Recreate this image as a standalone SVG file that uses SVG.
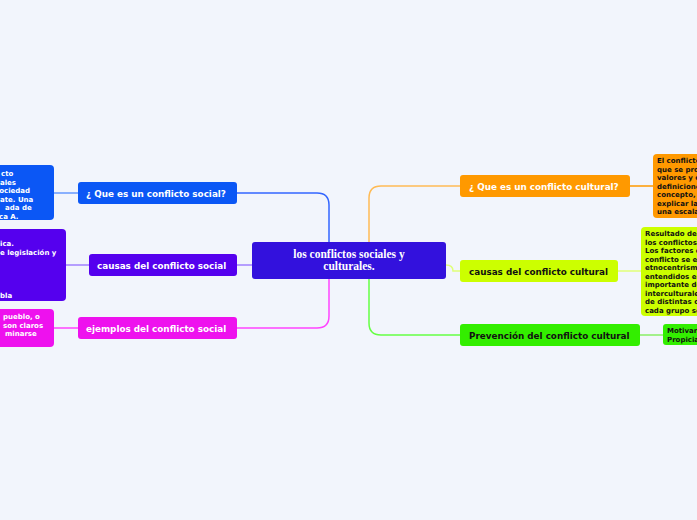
<svg xmlns="http://www.w3.org/2000/svg" width="697" height="520" viewBox="0 0 697 520">
<style>
.t{font-family:"DejaVu Sans",Verdana,sans-serif;font-weight:bold;font-size:8.8px;fill:#fff}
.l{font-family:"DejaVu Sans",Verdana,sans-serif;font-weight:bold;font-size:7px;fill:#fff}
.d{fill:#111}
path{fill:none;stroke-width:1.5}
</style>
<rect width="697" height="520" fill="#f2f5fc"/>
<g id="connectors">
<path d="M252,265 H237" stroke="#a080ff"/>
<path d="M329,242 V205 Q329,193 317,193 H237" stroke="#3366ff"/>
<path d="M329,279 V316 Q329,328 317,328 H237" stroke="#ff44ff"/>
<path d="M78,193 H54" stroke="#6699ff"/>
<path d="M89,265 H66" stroke="#a080ff"/>
<path d="M78,328 H54" stroke="#ff44ff"/>
<path d="M369,242 V198 Q369,186 381,186 H460" stroke="#ffbb55"/>
<path d="M446,265 Q453,265 453,271 H460" stroke="#e0ff77"/>
<path d="M369,279 V323 Q369,335 381,335 H460" stroke="#66ff44"/>
<path d="M630,186 H653" stroke="#ff9900"/>
<path d="M618,271 H641" stroke="#e0ff77"/>
<path d="M640,335 H663" stroke="#88ee66"/>
</g>
<g id="center"><rect x="252" y="242" width="194" height="37" rx="3" fill="#3311dd"/>
<text x="349" y="258" text-anchor="middle" font-family="Liberation Serif,serif" font-size="11.5" font-weight="bold" fill="#fff">los conflictos sociales y</text>
<text x="349" y="270" text-anchor="middle" font-family="Liberation Serif,serif" font-size="11.5" font-weight="bold" fill="#fff">culturales.</text></g>
<g id="n1"><rect x="78" y="182" width="159" height="22" rx="3" fill="#0b57f5"/><text class="t" x="86" y="196.5">¿ Que es un conflicto social?</text></g>
<g id="n1l"><rect x="-5" y="165" width="59" height="55" rx="4" fill="#0b57f5"/>
<text class="l"><tspan x="1" y="176">cto</tspan><tspan x="0" y="184.5">ales</tspan><tspan x="-5" y="193">sociedad</tspan><tspan x="0" y="201.5">ate. Una</tspan><tspan x="5" y="210">ada de</tspan><tspan x="-1" y="218.5">ca A.</tspan></text></g>
<g id="n2"><rect x="89" y="254" width="148" height="22" rx="3" fill="#5500ee"/><text class="t" x="97" y="268.5">causas del conflicto social</text></g>
<g id="n2l"><rect x="-5" y="229" width="71" height="72" rx="4" fill="#5500ee"/>
<text class="l"><tspan x="0" y="246">ica.</tspan><tspan x="0" y="254.5">e legislación y</tspan><tspan x="0" y="298">bla</tspan></text></g>
<g id="n3"><rect x="78" y="317" width="159" height="22" rx="3" fill="#ee11ee"/><text class="t" x="86" y="331.5">ejemplos del conflicto social</text></g>
<g id="n3l"><rect x="-5" y="309" width="59" height="38" rx="4" fill="#ee11ee"/>
<text class="l"><tspan x="3" y="319">pueblo, o</tspan><tspan x="3" y="327.5">son claros</tspan><tspan x="5" y="336">minarse</tspan></text></g>
<g id="n4"><rect x="460" y="175" width="170" height="22" rx="3" fill="#ff9900"/><text class="t" x="469" y="189.5">¿ Que es un conflicto cultural?</text></g>
<g id="n4l"><rect x="653" y="154" width="50" height="64" rx="4" fill="#ff9900"/>
<text class="l d"><tspan x="657" y="163">El conflicto</tspan><tspan x="657" y="171.5">que se pro</tspan><tspan x="657" y="180">valores y c</tspan><tspan x="657" y="188.5">definicione</tspan><tspan x="657" y="197">concepto,</tspan><tspan x="657" y="205.5">explicar la</tspan><tspan x="657" y="214">una escala</tspan></text></g>
<g id="n5"><rect x="460" y="260" width="158" height="22" rx="3" fill="#ccff00"/><text class="t d" x="469" y="274.5">causas del conflicto cultural</text></g>
<g id="n5l"><rect x="641" y="227" width="62" height="89" rx="4" fill="#ccff00"/>
<text class="l d"><tspan x="645" y="236">Resultado de</tspan><tspan x="645" y="244.5">los conflictos</tspan><tspan x="645" y="253">Los factores d</tspan><tspan x="645" y="261.5">conflicto se e</tspan><tspan x="645" y="270">etnocentrismo</tspan><tspan x="645" y="278.5">entendidos en</tspan><tspan x="645" y="287">importante de</tspan><tspan x="645" y="295.5">interculturale</tspan><tspan x="645" y="304">de distintas c</tspan><tspan x="645" y="312.5">cada grupo se</tspan></text></g>
<g id="n6"><rect x="460" y="324" width="180" height="22" rx="3" fill="#33ee00"/><text class="t d" x="469" y="338.5">Prevención del conflicto cultural</text></g>
<g id="n6l"><rect x="663" y="324" width="40" height="21" rx="3" fill="#33ee00"/>
<text class="l d"><tspan x="667" y="333">Motivar</tspan><tspan x="667" y="341.5">Propicia</tspan></text></g>
</svg>
